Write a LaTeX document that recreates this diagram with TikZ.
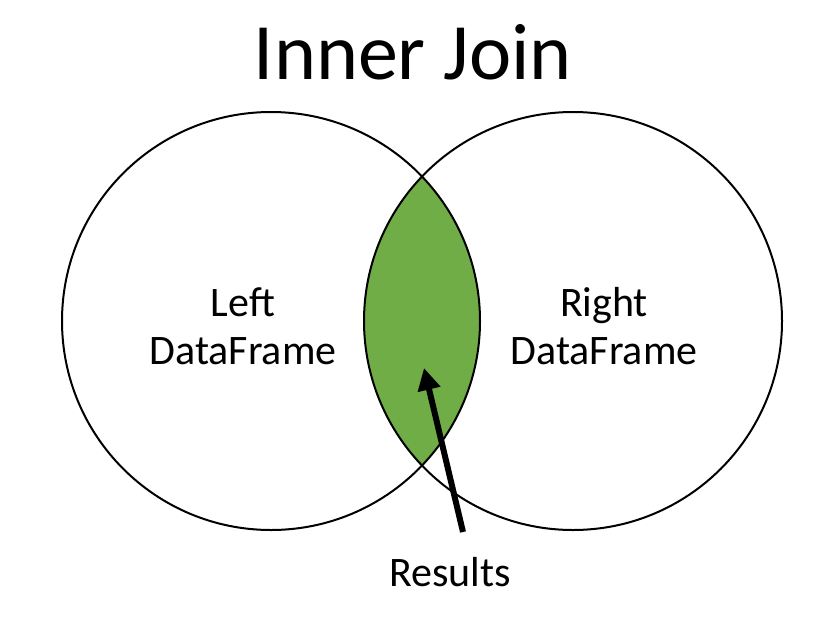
\documentclass[tikz,border=0pt]{standalone}
\usepackage{fontspec}
\setmainfont{Carlito}
\usetikzlibrary{arrows.meta}
\begin{document}
\begin{tikzpicture}[x=1pt,y=-1pt,
  circ/.style={draw=black,line width=2pt},
  lbl/.style={font=\fontsize{42}{48}\selectfont,align=center},
  arr/.style={line width=6pt,-{Triangle[length=22pt,width=22pt]}}]
\useasboundingbox (0,0) rectangle (834,624);
\begin{scope}
\clip (271,321) circle (209);
\fill[fill={rgb,255:red,112;green,173;blue,71}] (573,321) circle (209);
\end{scope}
\draw[circ] (271,321) circle (209);
\draw[circ] (573,321) circle (209);
\node[font=\fontsize{80}{90}\selectfont] (title) at (413,52) {Inner Join};
\node[lbl] (left) at (243,326) {Left\\DataFrame};
\node[lbl] (right) at (604,326) {Right\\DataFrame};
\node[lbl] (res) at (450,572) {Results};
\coordinate (tip) at (424,368);
\draw[arr] (463,532) -- (tip);
\end{tikzpicture}
\end{document}
